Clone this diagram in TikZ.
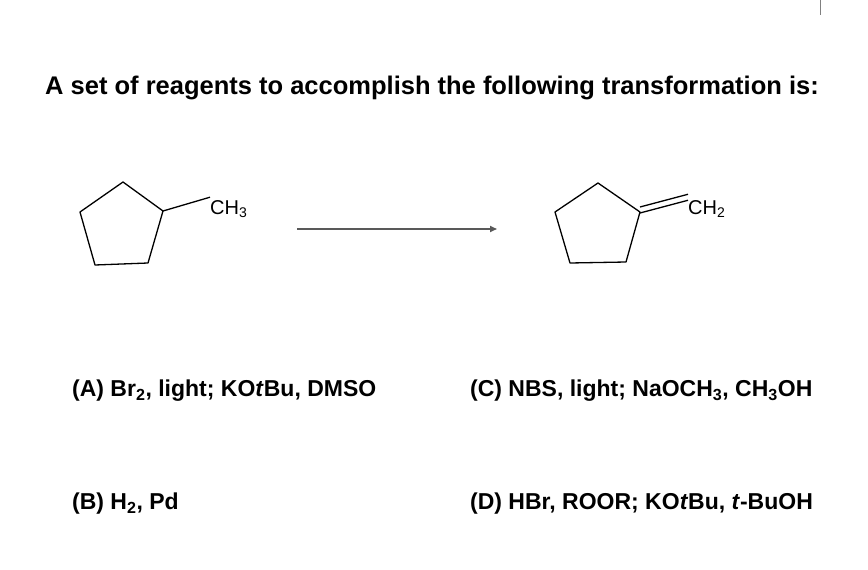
\documentclass[tikz,border=0pt]{standalone}
\usepackage{fontspec}
\setmainfont{Liberation Sans}
\usetikzlibrary{arrows.meta}
\begin{document}
\begin{tikzpicture}[x=1pt,y=-1pt,
  bond/.style={line width=1.3pt,line join=round},
  lbl/.style={anchor=west,inner sep=0pt,font=\fontsize{20}{22}\selectfont},
  opt/.style={anchor=west,inner sep=0pt,font=\bfseries\fontsize{23}{26}\selectfont}]
\useasboundingbox[fill=white] (0,0) rectangle (868,570);
\draw[line width=0.6pt,gray] (820,0) -- (820,15);
\node[anchor=west,inner sep=0pt,font=\bfseries\fontsize{25.5}{28}\selectfont] (title) at (45,88) {A set of reagents to accomplish the following transformation is:};
% left ring
\coordinate (a1) at (123,182); \coordinate (a2) at (163,211); \coordinate (a3) at (148,263);
\coordinate (a4) at (95,265); \coordinate (a5) at (80,212);
\draw[bond] (a1)--(a2)--(a3)--(a4)--(a5)--cycle;
\node[lbl] (ch3) at (210,209) {CH\textsubscript{3}};
\draw[bond] (a2) -- ([yshift=3pt]ch3.north west);
% arrow
\coordinate (s) at (297,229); \coordinate (e) at (497,229);
\draw[line width=1.6pt,gray!70!black,-{Triangle[length=7pt,width=6pt]}] (s) -- (e);
% right ring
\coordinate (b1) at (598,183); \coordinate (b2) at (640,212); \coordinate (b3) at (626,262);
\coordinate (b4) at (570,263); \coordinate (b5) at (555,212);
\draw[bond] (b1)--(b2)--(b3)--(b4)--(b5)--cycle;
\node[lbl] (ch2) at (688,209) {CH\textsubscript{2}};
\draw[bond] ([yshift=-1pt]b2) -- ([yshift=0pt]ch2.north west);
\draw[bond] ([yshift=5pt]b2) -- ([yshift=6pt]ch2.north west);
% options
\node[opt] (A) at (72,391) {(A) Br\textsubscript{2}, light; KO\textit{t}Bu, DMSO};
\node[opt] (C) at (470,391) {(C) NBS, light; NaOCH\textsubscript{3}, CH\textsubscript{3}OH};
\node[opt] (B) at (72,504) {(B) H\textsubscript{2}, Pd};
\node[opt] (D) at (470,504) {(D) HBr, ROOR; KO\textit{t}Bu, \textit{t}-BuOH};
\end{tikzpicture}
\end{document}
